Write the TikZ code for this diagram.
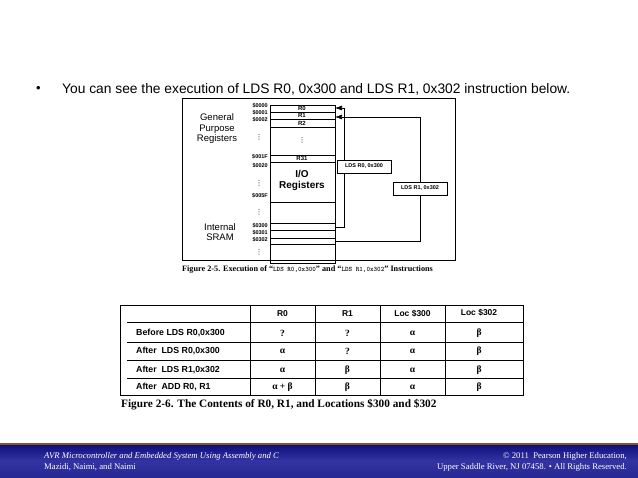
\documentclass[tikz,border=0pt]{standalone}
\usepackage{fontspec}
\setmainfont{Liberation Serif}
\newfontfamily\arial{Liberation Sans}
\newfontfamily\dv{DejaVu Sans}
\usetikzlibrary{arrows.meta}
\begin{document}
\begin{tikzpicture}[x=1pt,y=-1pt,
  lab/.style={font=\arial\fontsize{9.5}{10.5}\selectfont,align=center,inner sep=0},
  addr/.style={font=\arial\bfseries\fontsize{5.5}{6}\selectfont,anchor=east,inner sep=0},
  dts/.style={font=\dv\fontsize{7}{7}\selectfont,inner sep=0},
  reg/.style={font=\arial\bfseries\fontsize{6}{6}\selectfont,inner sep=0},
  ins/.style={draw,fill=white,thick,font=\arial\bfseries\fontsize{5.5}{6}\selectfont,minimum width=54pt,minimum height=13pt,inner sep=1pt},
  th/.style={font=\arial\bfseries\fontsize{8.5}{9}\selectfont,inner sep=0},
  rh/.style={font=\arial\bfseries\fontsize{8.8}{9}\selectfont,anchor=west,inner sep=0},
  tc/.style={font=\bfseries\fontsize{9.5}{10}\selectfont,inner sep=0},
  foot/.style={font=\fontsize{8.7}{9.5}\selectfont,text=white,inner sep=0}]
\useasboundingbox (0,0) rectangle (638,478);
\fill[white] (0,0) rectangle (638,478);
% bullet
\node[font=\arial\fontsize{13}{14}\selectfont,anchor=west,inner sep=0] (bul) at (36,89) {\textbullet};
\node[font=\arial\fontsize{13.8}{15}\selectfont,anchor=west,inner sep=0] (bt) at (62,89) {You can see the execution of LDS R0, 0x300 and LDS R1, 0x302 instruction below.};
% figure 2-5
\draw[thin] (182,98) rectangle (455,260);
\draw[thick] (270,105) rectangle (335,263);
\foreach \yy in {112,119,127,155,230,238,244} \draw (270,\yy) -- (335,\yy);
\draw[thick] (270,223) -- (335,223);
\draw[thick] (270,162) -- (335,162);
\draw[thick] (270,202) -- (335,202);
\node[reg] (r0) at (302,108.5) {R0};
\node[reg] (r1) at (302,115.5) {R1};
\node[reg] (r2) at (302,123) {R2};
\node[dts] at (302,140) {⋮};
\node[reg] (r31) at (302,158.5) {R31};
\node[font=\arial\bfseries\fontsize{10}{11}\selectfont,align=center] (io) at (302,180) {I/O\\Registers};
\node[lab] (gp) at (217,129) {General\\Purpose\\Registers};
\node[lab] (sr) at (220,232) {Internal\\SRAM};
\node[addr] at (268,106) {\$0000};
\node[addr] at (268,113) {\$0001};
\node[addr] at (268,120) {\$0002};
\node[dts] at (259,137) {⋮};
\node[addr] at (268,157) {\$001F};
\node[addr] at (268,166) {\$0020};
\node[dts] at (259,183) {⋮};
\node[addr] at (268,196) {\$005F};
\node[dts] at (259,212) {⋮};
\node[addr] at (268,226) {\$0300};
\node[addr] at (268,233) {\$0301};
\node[addr] at (268,240) {\$0302};
\node[dts] at (259,252) {⋮};
\coordinate (a0) at (344,108);
\coordinate (b0) at (344,227);
\coordinate (a1) at (420,117);
\coordinate (b1) at (420,241);
\draw[semithick,-{Latex[length=7pt,width=5pt]}] (335,227) -- (b0) -- (a0) -- (335,108);
\draw[semithick,-{Latex[length=7pt,width=5pt]}] (335,241) -- (b1) -- (a1) -- (335,117);
\node[ins] (i0) at (364,166.5) {LDS R0, 0x300};
\node[ins] (i1) at (420,188.5) {LDS R1, 0x302};
\node[font=\bfseries\fontsize{8.2}{9}\selectfont,anchor=west,inner sep=0] (c1) at (182,270) {Figure 2-5. Execution of ``{\ttfamily\fontsize{6.8}{7}\selectfont LDS R0,0x300}'' and ``{\ttfamily\fontsize{6.8}{7}\selectfont LDS R1,0x302}'' Instructions};
% table
\draw[thick] (120,305) rectangle (523,395);
\foreach \xx in {250,315,380,445} \draw (\xx,305) -- (\xx,395);
\draw (127,322) -- (523,322);
\foreach \yy in {342,360,378} \draw (127,\yy) -- (523,\yy);
\node[th] at (282.5,314) {R0};
\node[th] at (347.5,314) {R1};
\node[th] at (412.5,314) {Loc \$300};
\node[th] at (479,313) {Loc \$302};
\node[rh] at (136,333) {Before LDS R0,0x300};
\node[rh] at (136,351) {After\ \ LDS R0,0x300};
\node[rh] at (136,370) {After\ \ LDS R1,0x302};
\node[rh] at (136,387) {After\ \ ADD R0, R1};
\foreach \y/\a/\b/\c/\d in {333/?/?/α/β, 351/α/?/α/β, 370/α/β/α/β, 387/α + β/β/α/β}{
  \node[tc] at (282.5,\y) {\a};
  \node[tc] at (347.5,\y) {\b};
  \node[tc] at (412.5,\y) {\c};
  \node[tc] at (479,\y) {\d};}
\node[font=\bfseries\fontsize{11.3}{12}\selectfont,anchor=west,inner sep=0] (c2) at (121,405) {Figure 2-6. The Contents of R0, R1, and Locations \$300 and \$302};
% footer
\shade[top color=blue!45!black!95, bottom color=blue!50!black!85,middle color=blue!55!black!80] (0,444) rectangle (638,478);
\draw[brown!70!black,line width=1.2pt] (0,444) -- (638,444);
\node[foot,anchor=west] (f1) at (44,456) {\itshape AVR Microcontroller and Embedded System Using Assembly and C};
\node[foot,anchor=west] (f2) at (44,467) {Mazidi, Naimi, and Naimi};
\node[foot,anchor=east] (f3) at (627,456) {\textcopyright\ 2011\ \ Pearson Higher Education,};
\node[foot,anchor=east] (f4) at (627,467) {Upper Saddle River, NJ 07458. \textbullet\ All Rights Reserved.};
\end{tikzpicture}
\end{document}
